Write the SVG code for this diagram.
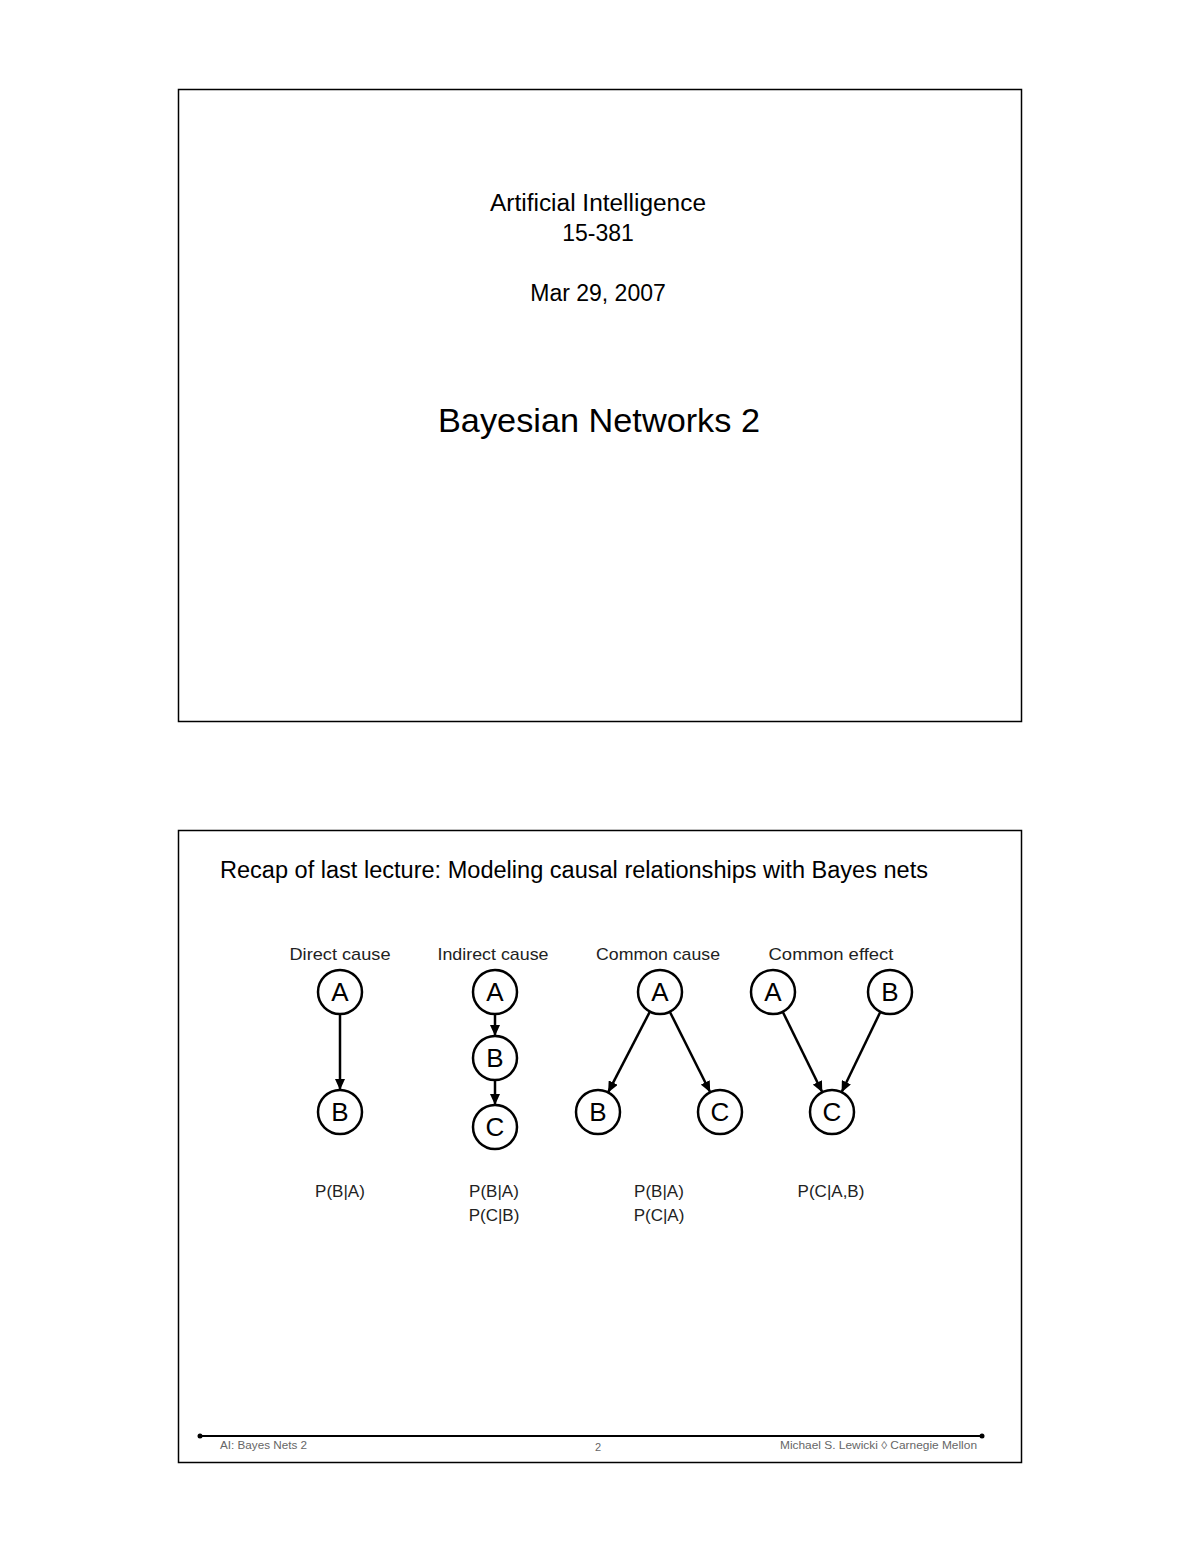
<svg xmlns="http://www.w3.org/2000/svg" width="1200" height="1553" viewBox="0 0 1200 1553">
<style>
.frame{fill:#fff;stroke:#000;stroke-width:1.5}
.t{font-family:"Liberation Sans","DejaVu Sans",sans-serif;fill:#000;text-anchor:middle}
.node circle{fill:#fff;stroke:#000;stroke-width:2.5}
.node text{font-family:"Liberation Sans","DejaVu Sans",sans-serif;font-size:26px;text-anchor:middle;fill:#000}
.edge{stroke:#000;stroke-width:2.5;fill:none;marker-end:url(#ah)}
.lbl{font-family:"Liberation Sans","DejaVu Sans",sans-serif;font-size:17px;fill:#222;text-anchor:middle}
.foot{font-family:"Liberation Sans","DejaVu Sans",sans-serif;font-size:11px;fill:#666}
</style>
<defs>
<marker id="ah" markerUnits="userSpaceOnUse" markerWidth="12" markerHeight="10" refX="11" refY="5" orient="auto">
<path d="M0,0 L11,5 L0,10 Z" fill="#000"/>
</marker>
</defs>
<rect width="1200" height="1553" fill="#fff"/>
<g id="slide1">
<rect class="frame" x="178.5" y="89.5" width="843" height="632"/>
<text class="t" x="598" y="211" font-size="23" textLength="216" lengthAdjust="spacingAndGlyphs">Artificial Intelligence</text>
<text class="t" x="598" y="241" font-size="23">15-381</text>
<text class="t" x="598" y="301" font-size="23">Mar 29, 2007</text>
<text class="t" x="599" y="432" font-size="34" textLength="322" lengthAdjust="spacingAndGlyphs">Bayesian Networks 2</text>
</g>
<g id="slide2">
<rect class="frame" x="178.5" y="830.5" width="843" height="632"/>
<text x="220" y="878" font-family="'Liberation Sans','DejaVu Sans',sans-serif" font-size="23" textLength="708" lengthAdjust="spacingAndGlyphs">Recap of last lecture: Modeling causal relationships with Bayes nets</text>
<text class="lbl" x="340" y="960" textLength="101" lengthAdjust="spacingAndGlyphs">Direct cause</text>
<text class="lbl" x="493" y="960" textLength="111" lengthAdjust="spacingAndGlyphs">Indirect cause</text>
<text class="lbl" x="658" y="960" textLength="124" lengthAdjust="spacingAndGlyphs">Common cause</text>
<text class="lbl" x="831" y="960" textLength="125" lengthAdjust="spacingAndGlyphs">Common effect</text>
<text class="lbl" x="340" y="1197">P(B|A)</text>
<text class="lbl" x="494" y="1197">P(B|A)</text>
<text class="lbl" x="494" y="1221">P(C|B)</text>
<text class="lbl" x="659" y="1197">P(B|A)</text>
<text class="lbl" x="659" y="1221">P(C|A)</text>
<text class="lbl" x="831" y="1197">P(C|A,B)</text>
<g id="footer">
<line x1="200" y1="1436" x2="982" y2="1436" stroke="#000" stroke-width="2"/>
<circle cx="200" cy="1436" r="2.5" fill="#000"/>
<circle cx="982" cy="1436" r="2.5" fill="#000"/>
<text class="foot" x="220" y="1449" textLength="87" lengthAdjust="spacingAndGlyphs">AI: Bayes Nets 2</text>
<text class="foot" x="598" y="1451" text-anchor="middle">2</text>
<text class="foot" x="780" y="1449" textLength="197" lengthAdjust="spacingAndGlyphs">Michael S. Lewicki ◊ Carnegie Mellon</text>
</g>
</g>
<g id="connectors">
<line class="edge" x1="340" y1="1014" x2="340" y2="1090"/>
<line class="edge" x1="495" y1="1014" x2="495" y2="1036"/>
<line class="edge" x1="495" y1="1080" x2="495" y2="1105"/>
<line class="edge" x1="649.9" y1="1011.6" x2="608.1" y2="1092.4"/>
<line class="edge" x1="669.8" y1="1011.7" x2="710.2" y2="1092.3"/>
<line class="edge" x1="782.7" y1="1011.7" x2="822.3" y2="1092.3"/>
<line class="edge" x1="880.4" y1="1011.8" x2="841.6" y2="1092.2"/>
</g>
<g id="direct-A" class="node"><circle cx="340" cy="992" r="22"/><text x="340" y="1001">A</text></g>
<g id="direct-B" class="node"><circle cx="340" cy="1112" r="22"/><text x="340" y="1121">B</text></g>
<g id="indirect-A" class="node"><circle cx="495" cy="992" r="22"/><text x="495" y="1001">A</text></g>
<g id="indirect-B" class="node"><circle cx="495" cy="1058" r="22"/><text x="495" y="1067">B</text></g>
<g id="indirect-C" class="node"><circle cx="495" cy="1127" r="22"/><text x="495" y="1136">C</text></g>
<g id="cc-A" class="node"><circle cx="660" cy="992" r="22"/><text x="660" y="1001">A</text></g>
<g id="cc-B" class="node"><circle cx="598" cy="1112" r="22"/><text x="598" y="1121">B</text></g>
<g id="cc-C" class="node"><circle cx="720" cy="1112" r="22"/><text x="720" y="1121">C</text></g>
<g id="ce-A" class="node"><circle cx="773" cy="992" r="22"/><text x="773" y="1001">A</text></g>
<g id="ce-B" class="node"><circle cx="890" cy="992" r="22"/><text x="890" y="1001">B</text></g>
<g id="ce-C" class="node"><circle cx="832" cy="1112" r="22"/><text x="832" y="1121">C</text></g>
</svg>
